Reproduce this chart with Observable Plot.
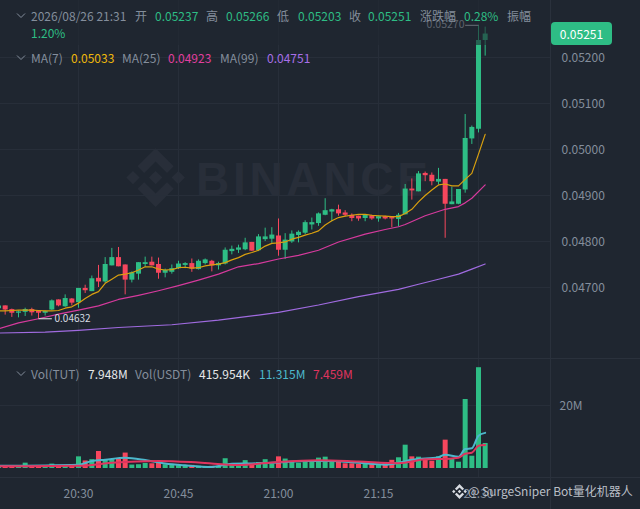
<!DOCTYPE html>
<html><head><meta charset="utf-8">
<script src="https://cdn.jsdelivr.net/npm/d3@7"></script>
<script src="https://cdn.jsdelivr.net/npm/@observablehq/plot@0.6"></script>
<style>
html,body{margin:0;padding:0;background:#1f2630;}
#root{position:relative;width:640px;height:509px;overflow:hidden;background:#1f2630;font-family:"Noto Sans CJK SC","Noto Sans",sans-serif;font-size:12px;color:#848e9c;}
#root svg{display:block;background:transparent;}
.abs{position:absolute;white-space:nowrap;line-height:16px;}
.sep{background:#2a313c;position:absolute;}
#top,#bot{position:absolute;left:0;}
#top{top:0}#bot{top:358px}
</style></head><body><div id="root">
<svg class="abs" style="left:0;top:0" width="640" height="358">
 <g fill="#282e39">
  <g transform="translate(126,148) scale(.47)"><path d="M38.73 53.2L63 28.93l24.28 24.28 14.12-14.12L63 .68 24.61 39.08l14.12 14.12zM.68 63l14.12-14.12L28.92 63 14.8 77.12.68 63zm38.05 9.8L63 97.07l24.28-24.28 14.13 14.11L63 125.32 24.61 86.93l-.02-.02 14.14-14.11zM97.08 63l14.12-14.12L125.32 63 111.2 77.12 97.08 63zM77.32 63L63 48.68 52.41 59.27l-1.22 1.22-2.51 2.51L63 77.33 77.32 63z"/></g>
  <text x="196" y="195" font-family="Liberation Sans" font-weight="700" font-size="46" textLength="232">BINANCE</text>
 </g>
</svg>
<div id="top"></div><div id="bot"></div>
<div class="sep" style="left:0;top:358px;width:640px;height:1px"></div>
<div class="sep" style="left:0;top:477px;width:640px;height:1px"></div>
<div class="sep" style="left:550px;top:0;width:1px;height:509px"></div>
<div class="abs" style="left:0;top:0;width:550px;height:45px;background:rgba(31,38,48,.6)"></div>
<div id="labels"></div>
<div class="abs" style="left:551px;top:22px;width:61px;height:23px;line-height:23px;text-align:center;background:#2ebd85;border-radius:4px;color:#fff">0.05251</div>
<svg class="abs" style="left:452px;top:484px" width="15" height="15" viewBox="0 0 126 126"><path fill="#d8dce2" d="M38.73 53.2L63 28.93l24.28 24.28 14.12-14.12L63 .68 24.61 39.08l14.12 14.12zM.68 63l14.12-14.12L28.92 63 14.8 77.12.68 63zm38.05 9.8L63 97.07l24.28-24.28 14.13 14.11L63 125.32 24.61 86.93l-.02-.02 14.14-14.11zM97.08 63l14.12-14.12L125.32 63 111.2 77.12 97.08 63zM77.32 63L63 48.68 52.41 59.27l-1.22 1.22-2.51 2.51L63 77.33 77.32 63z"/></svg>
<div class="abs" style="left:468px;top:483px;color:#b9bec6">@ SurgeSniper Bot量化机器人</div>
</div>
<script>
// prices in units of 0.00001, one candle per minute from 20:18 to 21:31
const opens=[4654,4660,4652,4644,4646,4652,4649,4644,4651,4673,4658,4675,4667,4698,4691,4720,4712,4747,4765,4749,4716,4729,4750,4755,4750,4731,4733,4741,4748,4752,4739,4752,4757,4747,4751,4778,4781,4782,4798,4780,4804,4805,4812,4781,4799,4813,4818,4836,4839,4857,4864,4869,4862,4857,4855,4850,4856,4849,4854,4852,4848,4858,4914,4908,4948,4944,4929,4935,4880,4881,4912,5023,5044,5237];
const highs=[4662,4660,4653,4649,4655,4655,4649,4649,4673,4673,4684,4676,4698,4705,4725,4748,4765,4785,4787,4749,4734,4754,4766,4766,4764,4740,4749,4757,4754,4762,4760,4762,4759,4755,4786,4790,4792,4807,4798,4815,4829,4830,4849,4817,4823,4823,4845,4851,4862,4893,4870,4879,4867,4860,4855,4857,4857,4855,4855,4852,4861,4924,4936,4952,4951,4949,4959,4935,4918,4913,5076,5051,5270,5266];
const lows=[4650,4640,4635,4634,4637,4638,4632,4638,4650,4658,4657,4660,4655,4687,4691,4700,4709,4747,4745,4684,4710,4716,4744,4747,4718,4721,4729,4739,4741,4733,4738,4749,4734,4738,4749,4771,4774,4780,4778,4778,4800,4796,4768,4761,4796,4797,4815,4825,4833,4856,4843,4855,4854,4843,4844,4843,4846,4842,4847,4830,4832,4858,4890,4908,4930,4921,4923,4807,4880,4880,4905,5011,5036,5203];
const closes=[4660,4651,4644,4647,4652,4645,4644,4648,4671,4660,4676,4666,4698,4693,4719,4712,4750,4765,4745,4716,4732,4754,4754,4747,4731,4737,4741,4751,4752,4740,4757,4760,4747,4752,4781,4783,4786,4797,4779,4810,4810,4814,4781,4803,4816,4820,4841,4841,4860,4867,4869,4860,4857,4850,4849,4857,4849,4854,4849,4849,4857,4914,4910,4947,4943,4930,4935,4881,4886,4913,5024,5048,5237,5251];
const ma7=[4649,4649,4650,4651,4651,4651,4650,4649,4649,4650,4655,4658,4666,4676,4685,4691,4709,4718,4727,4729,4732,4738,4745,4745,4740,4738,4739,4743,4744,4742,4743,4747,4749,4751,4754,4760,4765,4772,4776,4781,4790,4796,4797,4799,4805,4809,4814,4818,4823,4836,4845,4852,4855,4857,4859,4859,4857,4856,4855,4854,4854,4861,4870,4886,4900,4912,4923,4925,4921,4921,4935,4948,4990,5033];
const ma25Times=["20:18","20:21","20:24","20:27","20:30","20:33","20:36","20:39","20:42","20:45","20:48","20:51","20:54","20:57","21:00","21:03","21:06","21:09","21:13","21:16","21:18","21:19","21:22","21:25","21:27","21:28","21:29","21:31"];
const ma25=[4610,4623,4632,4642,4651,4660,4674,4683,4693,4704,4716,4729,4745,4752,4762,4770,4781,4799,4816,4826,4832,4837,4856,4870,4876,4884,4894,4923];
const ma99Times=["20:18","20:25","20:30","20:36","20:44","20:51","20:57","21:00","21:06","21:12","21:18","21:21","21:24","21:27","21:29","21:31"];
const ma99=[4601,4603,4607,4613,4619,4629,4640,4646,4662,4680,4696,4707,4718,4729,4740,4751];
// volume in millions of TUT
const volumes=[0.6,0.5,0.5,0.5,1.7,0.7,0.5,0.7,1.4,0.7,0.7,0.6,3.7,2.4,2.8,5.4,2.8,2.8,2.9,4.9,1.1,1.2,1.6,1.5,1.9,1.2,1.1,0.9,0.7,1,0.7,0.6,0.7,0.7,3.1,1.6,1,2.5,1.2,1.9,2.8,1.4,3.7,3,1.9,1.7,2.1,1.9,3.3,3.6,2.1,2.1,1.5,1.5,1.3,1.8,1.6,1,1.7,2.6,3.4,7.4,3.7,3.6,2.7,2.3,3.7,9,3,2,21.9,3.9,32,7.948];
const volBlueTimes=["20:18","20:30","20:32","20:34","20:37","20:40","20:43","20:46","20:50","20:53","20:56","21:00","21:04","21:08","21:12","21:16","21:18","21:20","21:24","21:25","21:27","21:28","21:29","21:30","21:31"];
const volBlue=[0.85,1.2,2.4,2.8,3.4,2.7,1.6,1,0.5,1.5,1.6,1.9,2.4,2.4,1.8,1.2,1.8,2.8,3.6,4.4,3.7,6.2,6.4,10.4,11.315];
const volRedTimes=["20:18","20:30","20:35","20:42","20:48","20:54","21:00","21:06","21:12","21:18","21:22","21:26","21:27","21:28","21:29","21:30","21:31"];
const volRed=[0.7,0.85,1.8,2.4,1.9,1.1,2.1,2.6,2.2,1.7,2.9,3.2,3.4,4.7,5,7.2,7.459];
const priceTicks=[4700,4800,4900,5000,5100,5200];
const volTicks=[20];
const timeTicks=["20:30","20:45","21:00","21:15","21:30"];

const T=s=>new Date(`2026-08-26T${s}:00Z`);
const start=T("20:18");
const times=opens.map((_,i)=>d3.utcMinute.offset(start,i));
const idx=d3.range(opens.length);
const UP="#2ebd85",DOWN="#f6465d",GRID="#272e39",TXT="#848e9c";
const col=i=>closes[i]>=opens[i]?UP:DOWN;
const xScale={type:"utc",domain:[T("20:30"),T("21:30")],range:[78,478]};
const FONT={fontFamily:'"Noto Sans CJK SC","Noto Sans",sans-serif',fontSize:"12px",background:"transparent"};
const hi=idx.find(i=>highs[i]===d3.max(highs)), lo=idx.find(i=>lows[i]===d3.min(lows));

const pricePlot=Plot.plot({width:640,height:358,marginLeft:0,marginTop:0,marginBottom:0,marginRight:90,style:FONT,
  x:{...xScale,axis:null},
  y:{domain:[4700,5200],range:[287,57],axis:null},
  marks:[
    Plot.gridX(timeTicks.map(T),{stroke:GRID,strokeOpacity:1}),
    Plot.gridY(priceTicks,{stroke:GRID,strokeOpacity:1}),
    Plot.axisY({anchor:"right",ticks:priceTicks,tickSize:0,tickPadding:11,dy:1,tickFormat:d=>(d/1e5).toFixed(5),label:null,fill:TXT}),
    Plot.ruleX(idx,{x:i=>times[i],y1:i=>lows[i],y2:i=>highs[i],stroke:col,strokeWidth:1}),
    Plot.ruleX(idx,{x:i=>times[i],y1:i=>opens[i],y2:i=>closes[i],stroke:col,strokeWidth:5}),
    Plot.line(idx,{x:i=>times[i],y:i=>ma7[i],stroke:"#d9a00f",strokeWidth:1.2}),
    Plot.line(ma25,{x:(_,i)=>T(ma25Times[i]),y:d=>d,stroke:"#d63a9d",strokeWidth:1.2}),
    Plot.line(ma99,{x:(_,i)=>T(ma99Times[i]),y:d=>d,stroke:"#a06be0",strokeWidth:1.2}),
    Plot.text([highs[hi]],{x:times[hi],y:d=>d,dx:-14,dy:-1,text:d=>(d/1e5).toFixed(5),textAnchor:"end",fill:"#b7bdc6",fontSize:10.5}),
    Plot.text([lows[lo]],{x:times[lo],y:d=>d,dx:16,text:d=>(d/1e5).toFixed(5),textAnchor:"start",fill:"#d8dce2",fontSize:10}),
    Plot.link([lows[lo]],{x1:times[lo],x2:d3.utcMinute.offset(times[lo],2),y1:d=>d,y2:d=>d,stroke:"#e6e8ea",strokeWidth:1}),
    Plot.link([highs[hi]],{x1:d3.utcMinute.offset(times[hi],-1.6),x2:times[hi],y1:d=>d,y2:d=>d,stroke:"#d8dce2",strokeWidth:1})
  ]});
document.getElementById("top").append(pricePlot);

const volPlot=Plot.plot({width:640,height:151,marginLeft:0,marginTop:0,marginBottom:32,marginRight:90,style:FONT,
  x:{...xScale,axis:null},
  y:{domain:[0,20],range:[110,47],axis:null},
  marks:[
    Plot.gridX(timeTicks.map(T),{stroke:GRID,strokeOpacity:1}),
    Plot.gridY(volTicks,{stroke:GRID,strokeOpacity:1}),
    Plot.axisY({anchor:"right",ticks:volTicks,tickSize:0,tickPadding:9,dy:1,tickFormat:d=>d+"M",label:null,fill:TXT}),
    Plot.axisX({ticks:timeTicks.map(T),tickSize:0,tickPadding:12,tickFormat:d3.utcFormat("%H:%M"),label:null,fill:TXT}),
    Plot.ruleX(idx,{x:i=>times[i],y1:0,y2:i=>volumes[i],stroke:col,strokeWidth:5}),
    Plot.line(volBlue,{x:(_,i)=>T(volBlueTimes[i]),y:d=>d,stroke:"#4db8cc",strokeWidth:2,curve:"monotone-x"}),
    Plot.line(volRed,{x:(_,i)=>T(volRedTimes[i]),y:d=>d,stroke:"#e0345f",strokeWidth:2,curve:"monotone-x"})
  ]});
document.getElementById("bot").append(volPlot);

const labels=[
 ["2026/08/26 21:31",31,8,TXT],["开",135,8,TXT],["0.05237",155,8,UP],["高",206,8,TXT],["0.05266",226,8,UP],["低",277,8,TXT],["0.05203",298,8,UP],["收",349,8,TXT],["0.05251",368,8,UP],["涨跌幅",420,8,TXT],["0.28%",464,8,UP],["振幅",507,8,TXT],
 ["1.20%",31,25,UP],
 ["MA(7)",31,50,TXT],["0.05033",71,50,"#f0b90b"],["MA(25)",122,50,TXT],["0.04923",168,50,"#e13f9f"],["MA(99)",220,50,TXT],["0.04751",267,50,"#a86fe8"],
 ["Vol(TUT)",31,366,TXT],["7.948M",88,366,"#e6e8ea"],["Vol(USDT)",135,366,TXT],["415.954K",199,366,"#e6e8ea"],["11.315M",259,366,"#4db8cc"],["7.459M",313,366,"#e0345f"]];
const host=document.getElementById("labels");
for(const [t,x,y,c] of labels){const s=document.createElement("div");s.className="abs";s.textContent=t;s.style.cssText=`left:${x}px;top:${y}px;color:${c}`;host.append(s);}
const chev=document.createElementNS("http://www.w3.org/2000/svg","svg");
chev.setAttribute("class","abs");chev.setAttribute("width","30");chev.setAttribute("height","509");chev.style.cssText="left:0;top:0";
chev.innerHTML=[16,58,374].map(y=>`<path d="M17 ${y-2.5}l4 4 4-4" fill="none" stroke="#848e9c" stroke-width="1"/>`).join("");
host.append(chev);
</script></body></html>
